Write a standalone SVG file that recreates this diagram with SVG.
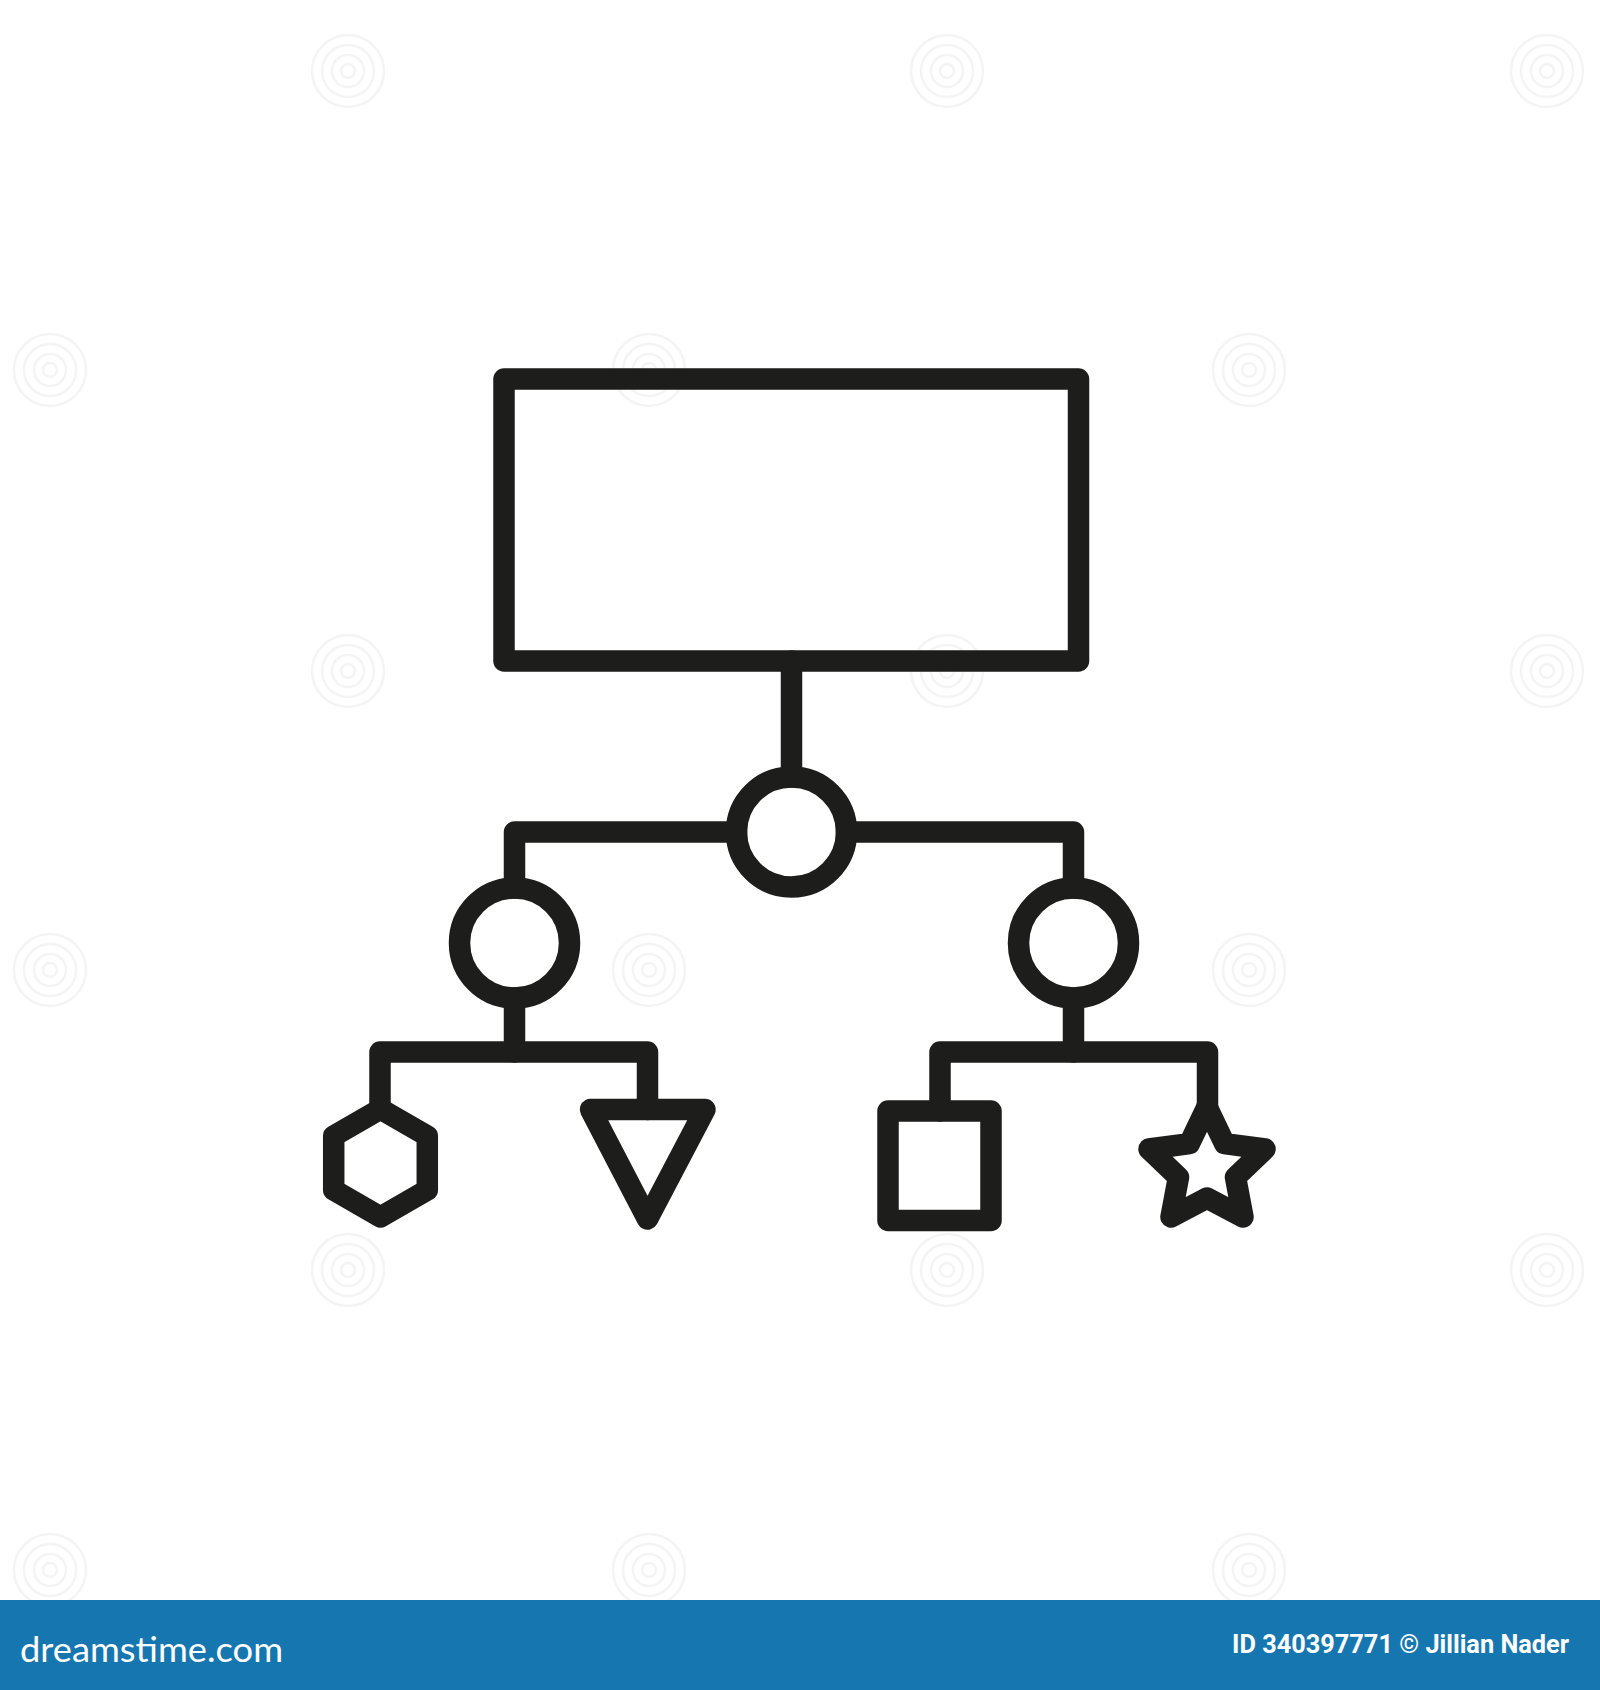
<svg xmlns="http://www.w3.org/2000/svg" width="1600" height="1690" viewBox="0 0 1600 1690">
<style>
.ln{fill:none;stroke:#1d1d1b;stroke-width:21.5;stroke-linejoin:round;stroke-linecap:round}
.wm{fill:none;stroke:#f4f4f4;stroke-width:2.5}
.ft{fill:#ffffff}
</style>
<defs>
<g id="spiral">
<circle r="36" class="wm"/>
<circle r="26" class="wm"/>
<circle r="16" class="wm"/>
<circle r="7" class="wm"/>
</g>
</defs>
<rect width="1600" height="1690" fill="#ffffff"/>
<g id="watermarks">
<use href="#spiral" x="348" y="71"/>
<use href="#spiral" x="947" y="71"/>
<use href="#spiral" x="1547" y="71"/>
<use href="#spiral" x="50" y="370"/>
<use href="#spiral" x="649" y="370"/>
<use href="#spiral" x="1249" y="370"/>
<use href="#spiral" x="348" y="671"/>
<use href="#spiral" x="947" y="671"/>
<use href="#spiral" x="1547" y="671"/>
<use href="#spiral" x="50" y="970"/>
<use href="#spiral" x="649" y="970"/>
<use href="#spiral" x="1249" y="970"/>
<use href="#spiral" x="348" y="1270"/>
<use href="#spiral" x="947" y="1270"/>
<use href="#spiral" x="1547" y="1270"/>
<use href="#spiral" x="50" y="1570"/>
<use href="#spiral" x="649" y="1570"/>
<use href="#spiral" x="1249" y="1570"/>
</g>
<g id="connectors">
<path class="ln" d="M791.5 661 V777"/>
<path class="ln" d="M514.5 888 V832 H736.5"/>
<path class="ln" d="M846.5 832 H1073.5 V888"/>
<path class="ln" d="M514.5 998 V1052"/>
<path class="ln" d="M380 1109 V1052 H647.5 V1109.5"/>
<path class="ln" d="M1073.5 998 V1052"/>
<path class="ln" d="M940 1111 V1052 H1207.5 V1107"/>
</g>
<g id="root">
<rect class="ln" x="504" y="379" width="574.5" height="282"/>
</g>
<g id="hub">
<circle class="ln" cx="791.5" cy="832" r="55"/>
</g>
<g id="left-branch">
<circle class="ln" cx="514.5" cy="943" r="55"/>
</g>
<g id="right-branch">
<circle class="ln" cx="1073.5" cy="943" r="55"/>
</g>
<g id="hexagon">
<polygon class="ln" points="380.5,1109 427.3,1136 427.3,1190 380.5,1217 333.7,1190 333.7,1136"/>
</g>
<g id="triangle">
<polygon class="ln" points="590.5,1109.5 705,1109.5 647.5,1219"/>
</g>
<g id="square">
<rect class="ln" x="888" y="1111" width="103" height="109.5"/>
</g>
<g id="star">
<polygon class="ln" points="1207,1107 1224.6,1143.7 1265,1149 1235.5,1177.3 1243,1217 1207,1198 1171,1217 1178.5,1177.3 1149,1149 1189.4,1143.7"/>
</g>
<g id="footer">
<rect x="0" y="1600" width="1600" height="90" fill="#1677b0"/>
<text class="ft" x="20" y="1662" font-family="Lato, 'Open Sans', sans-serif" font-size="35" textLength="263" lengthAdjust="spacingAndGlyphs">dreamstime.com</text>
<text class="ft" x="1569" y="1653" text-anchor="end" font-family="Roboto, 'Liberation Sans', sans-serif" font-weight="700" font-size="25" textLength="337" lengthAdjust="spacingAndGlyphs">ID 340397771 © Jillian Nader</text>
</g>
</svg>
